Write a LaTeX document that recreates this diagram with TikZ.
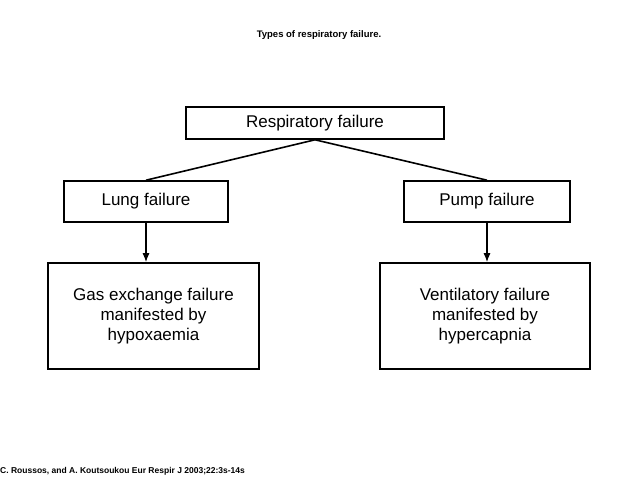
\documentclass[tikz,border=0pt]{standalone}
\usepackage{fontspec}
\setmainfont{Liberation Sans}
\usetikzlibrary{arrows.meta}
\begin{document}
\begin{tikzpicture}[x=1pt,y=-1pt,font=\fontsize{17}{20}\selectfont]
        \tikzset{box/.style={draw,line width=1.6pt,align=center,inner sep=0pt}}
        \useasboundingbox (0,0) rectangle (638,478);

        % Title and source
        \node[font=\bfseries\fontsize{9.5}{11}\selectfont] (title) at (319,35) {Types of respiratory failure.};
        \node[font=\bfseries\fontsize{8.5}{10}\selectfont,anchor=west,inner sep=0pt] (src) at (0,471) {C. Roussos, and A. Koutsoukou Eur Respir J 2003;22:3s-14s};

        % Boxes
        \node[box,minimum width=258,minimum height=32] (resp) at (315,123) {Respiratory failure};
        \node[box,minimum width=164,minimum height=41] (lung) at (146,201.5) {Lung failure};
        \node[box,minimum width=166,minimum height=41] (pump) at (487,201.5) {Pump failure};
        \node[box,minimum width=211,minimum height=106] (gas) at (153.5,316) {Gas exchange failure\\manifested by\\hypoxaemia};
        \node[box,minimum width=210,minimum height=106] (vent) at (485,316) {Ventilatory failure\\manifested by\\hypercapnia};

        % Connectors
        \draw[line width=1.6pt] (resp.south) -- (lung.north);
        \draw[line width=1.6pt] (resp.south) -- (pump.north);
        \draw[line width=1.2pt,-{Latex[length=9pt,width=7pt]}] (lung.south) -- (gas.north -| lung.south);
        \draw[line width=1.2pt,-{Latex[length=9pt,width=7pt]}] (pump.south) -- (vent.north -| pump.south);
    \end{tikzpicture}
\end{document}
